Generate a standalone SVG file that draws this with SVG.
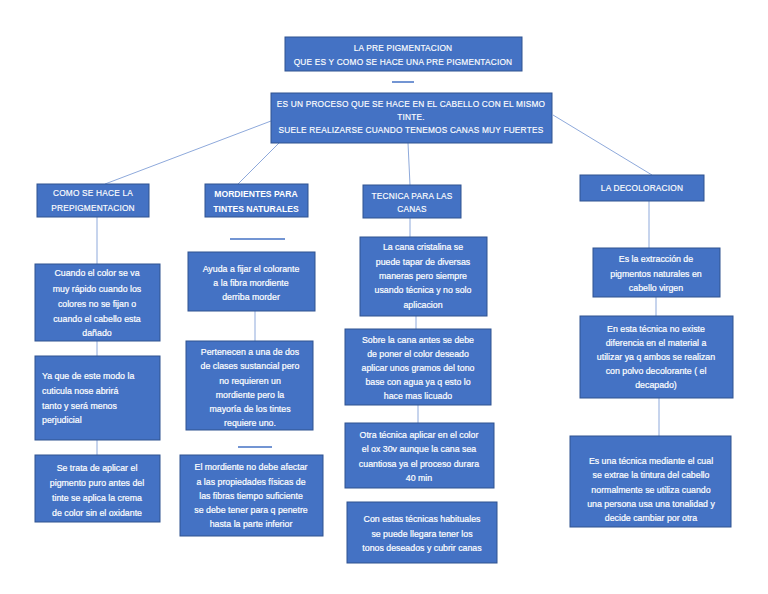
<svg xmlns="http://www.w3.org/2000/svg" width="768" height="594" viewBox="0 0 768 594">
<style>
.bx{fill:#4472C4;stroke:#2F528F;stroke-width:1}
.t{fill:#fff;stroke:#fff;stroke-width:0.2;font-family:"Liberation Sans",Arial,sans-serif;font-size:8.8px;text-anchor:middle}
.tl{fill:#fff;stroke:#fff;stroke-width:0.2;font-family:"Liberation Sans",Arial,sans-serif;font-size:8.8px;text-anchor:start}
.h{fill:#fff;stroke:#fff;stroke-width:0.15;font-family:"Liberation Sans",Arial,sans-serif;font-size:8.3px;letter-spacing:0.2px;text-anchor:middle}
.hb{fill:#fff;font-family:"Liberation Sans",Arial,sans-serif;font-size:8.6px;font-weight:bold;text-anchor:middle}
.c{stroke:#8EA9DB;stroke-width:1;fill:none}
.d{stroke:#4472C4;stroke-width:1.5;fill:none}
</style>
<rect width="768" height="594" fill="#fff"/>
<g id="connectors">
<line class="c" x1="271" y1="121" x2="105" y2="184"/>
<line class="c" x1="279" y1="143" x2="238" y2="184"/>
<line class="c" x1="408" y1="143" x2="410" y2="185"/>
<line class="c" x1="553" y1="115" x2="652" y2="175"/>
<line class="c" x1="97" y1="217" x2="97" y2="264"/>
<line class="c" x1="97" y1="341" x2="97" y2="356"/>
<line class="c" x1="97" y1="440" x2="97" y2="455"/>
<line class="c" x1="255" y1="311" x2="255" y2="341"/>
<line class="c" x1="410" y1="218" x2="410" y2="237"/>
<line class="c" x1="416" y1="316" x2="416" y2="329"/>
<line class="c" x1="418" y1="405" x2="418" y2="423"/>
<line class="c" x1="649" y1="201" x2="649" y2="248"/>
<line class="c" x1="656" y1="297" x2="656" y2="316"/>
<line class="c" x1="659" y1="398" x2="659" y2="436"/>
<line class="d" x1="392" y1="82" x2="414" y2="82"/>
<line class="d" x1="230" y1="239" x2="285" y2="239"/>
<line class="d" x1="238" y1="447" x2="272" y2="447"/>
</g>
<g id="title">
<rect class="bx" x="285" y="37" width="237" height="34"/>
<text class="h" x="403" y="51">LA PRE PIGMENTACION</text>
<text class="h" x="403" y="65">QUE ES Y COMO SE HACE UNA PRE PIGMENTACION</text>
</g>
<g id="central">
<rect class="bx" x="271" y="93" width="281" height="50"/>
<text class="h" x="411" y="107">ES UN PROCESO QUE SE HACE EN EL CABELLO CON EL MISMO</text>
<text class="h" x="411" y="120">TINTE.</text>
<text class="h" x="411" y="133">SUELE REALIZARSE CUANDO TENEMOS CANAS MUY FUERTES</text>
</g>
<g id="como">
<rect class="bx" x="37" y="184" width="112" height="33"/>
<text class="h" x="93" y="196">COMO SE HACE LA</text>
<text class="h" x="93" y="211">PREPIGMENTACION</text>
</g>
<g id="mordientes">
<rect class="bx" x="205" y="184" width="103" height="33"/>
<text class="hb" x="256" y="197">MORDIENTES PARA</text>
<text class="hb" x="256" y="212">TINTES NATURALES</text>
</g>
<g id="tecnica">
<rect class="bx" x="363" y="185" width="98" height="33"/>
<text class="h" x="412" y="199">TECNICA PARA LAS</text>
<text class="h" x="412" y="212">CANAS</text>
</g>
<g id="decoloracion">
<rect class="bx" x="580" y="175" width="124" height="26"/>
<text class="h" x="642" y="191">LA DECOLORACION</text>
</g>
<g id="a1">
<rect class="bx" x="35" y="264" width="125" height="77"/>
<text class="t" x="97" y="276">Cuando el color se va</text>
<text class="t" x="97" y="292">muy rápido cuando los</text>
<text class="t" x="97" y="307">colores no se fijan o</text>
<text class="t" x="97" y="322">cuando el cabello esta</text>
<text class="t" x="97" y="336">dañado</text>
</g>
<g id="a2">
<rect class="bx" x="35" y="356" width="125" height="84"/>
<text class="tl" x="42" y="379">Ya que de este modo la</text>
<text class="tl" x="42" y="394">cuticula nose abrirá</text>
<text class="tl" x="42" y="409">tanto y será menos</text>
<text class="tl" x="42" y="423">perjudicial</text>
</g>
<g id="a3">
<rect class="bx" x="35" y="455" width="125" height="67"/>
<text class="t" x="97" y="471">Se trata de aplicar el</text>
<text class="t" x="97" y="486">pigmento puro antes del</text>
<text class="t" x="97" y="501">tinte se aplica la crema</text>
<text class="t" x="97" y="516">de color sin el oxidante</text>
</g>
<g id="b1">
<rect class="bx" x="188" y="252" width="127" height="59"/>
<text class="t" x="251" y="272">Ayuda a fijar el colorante</text>
<text class="t" x="251" y="286">a la fibra mordiente</text>
<text class="t" x="251" y="300">derriba morder</text>
</g>
<g id="b2">
<rect class="bx" x="186" y="341" width="127" height="89"/>
<text class="t" x="250" y="355">Pertenecen a una de dos</text>
<text class="t" x="250" y="369">de clases sustancial pero</text>
<text class="t" x="250" y="384">no requieren un</text>
<text class="t" x="250" y="398">mordiente pero la</text>
<text class="t" x="250" y="412">mayoría de los tintes</text>
<text class="t" x="250" y="426">requiere uno.</text>
</g>
<g id="b3">
<rect class="bx" x="180" y="455" width="143" height="81"/>
<text class="t" x="251" y="470">El mordiente no debe afectar</text>
<text class="t" x="251" y="485">a las propiedades físicas de</text>
<text class="t" x="251" y="499">las fibras tiempo suficiente</text>
<text class="t" x="251" y="513">se debe tener para q penetre</text>
<text class="t" x="251" y="527">hasta la parte inferior</text>
</g>
<g id="c1">
<rect class="bx" x="360" y="237" width="127" height="79"/>
<text class="t" x="423" y="250">La cana cristalina se</text>
<text class="t" x="423" y="265">puede tapar de diversas</text>
<text class="t" x="423" y="279">maneras pero siempre</text>
<text class="t" x="423" y="293">usando técnica y no solo</text>
<text class="t" x="423" y="308">aplicacion</text>
</g>
<g id="c2">
<rect class="bx" x="345" y="329" width="146" height="76"/>
<text class="t" x="418" y="343">Sobre la cana antes se debe</text>
<text class="t" x="418" y="357">de poner el color deseado</text>
<text class="t" x="418" y="371">aplicar unos gramos del tono</text>
<text class="t" x="418" y="385">base con agua ya q esto lo</text>
<text class="t" x="418" y="399">hace mas licuado</text>
</g>
<g id="c3">
<rect class="bx" x="345" y="423" width="149" height="65"/>
<text class="t" x="419" y="438">Otra técnica aplicar en el color</text>
<text class="t" x="419" y="452">el ox 30v aunque la cana sea</text>
<text class="t" x="419" y="467">cuantiosa ya el proceso durara</text>
<text class="t" x="419" y="481">40 min</text>
</g>
<g id="c4">
<rect class="bx" x="347" y="502" width="150" height="61"/>
<text class="t" x="422" y="522">Con estas técnicas habituales</text>
<text class="t" x="422" y="537">se puede llegara tener los</text>
<text class="t" x="422" y="551">tonos deseados y cubrir canas</text>
</g>
<g id="d1">
<rect class="bx" x="593" y="248" width="127" height="49"/>
<text class="t" x="656" y="262">Es la extracción de</text>
<text class="t" x="656" y="277">pigmentos naturales en</text>
<text class="t" x="656" y="291">cabello virgen</text>
</g>
<g id="d2">
<rect class="bx" x="580" y="316" width="153" height="82"/>
<text class="t" x="656" y="332">En esta técnica no existe</text>
<text class="t" x="656" y="346">diferencia en el material a</text>
<text class="t" x="656" y="360">utilizar ya q ambos se realizan</text>
<text class="t" x="656" y="374">con polvo decolorante ( el</text>
<text class="t" x="656" y="388">decapado)</text>
</g>
<g id="d3">
<rect class="bx" x="570" y="436" width="161" height="91"/>
<text class="t" x="651" y="464">Es una técnica mediante el cual</text>
<text class="t" x="651" y="478">se extrae la tintura del cabello</text>
<text class="t" x="651" y="493">normalmente se utiliza cuando</text>
<text class="t" x="651" y="507">una persona usa una tonalidad y</text>
<text class="t" x="651" y="521">decide cambiar por otra</text>
</g>
</svg>
